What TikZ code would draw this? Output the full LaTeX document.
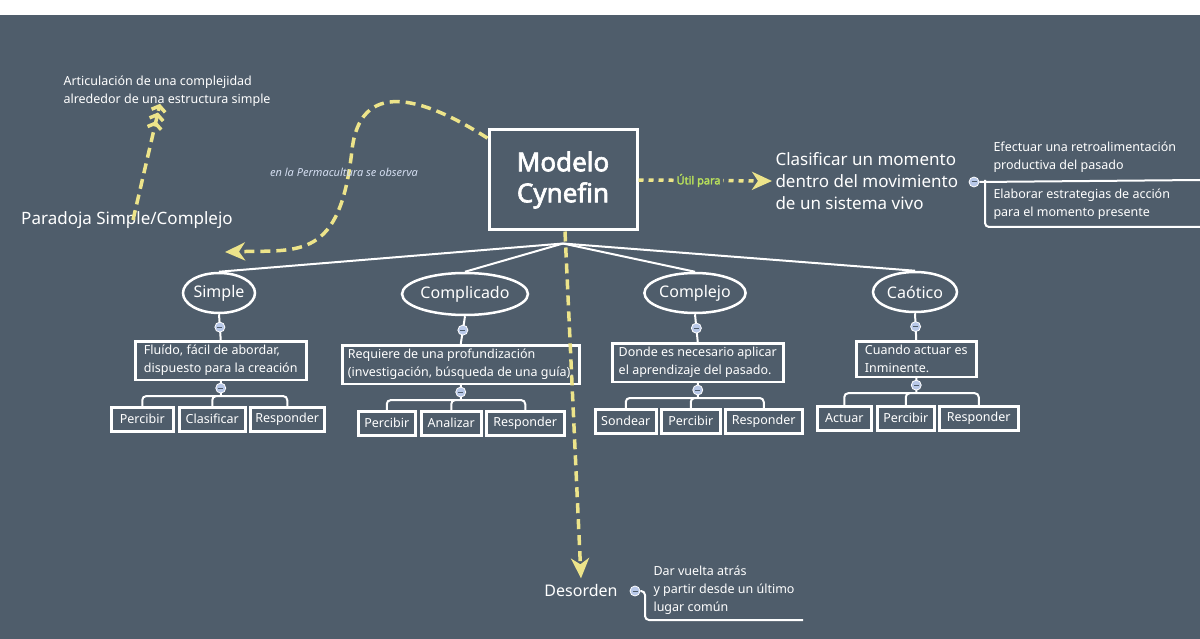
\documentclass[tikz,border=0pt]{standalone}
\usepackage{fontspec}
\setmainfont{Noto Sans}[AutoFakeBold=2.5]
\usetikzlibrary{arrows.meta,positioning,shapes.geometric,calc}
\definecolor{fondo}{HTML}{4F5D6B}
\definecolor{amarillo}{HTML}{EDE48A}
\definecolor{punto}{HTML}{B8C8E8}
\tikzset{
    >=Stealth,
    tema/.style={draw=white, line width=3pt, text=white, font=\fontsize{26}{31}\selectfont\bfseries,
                 align=center, minimum width=148pt, minimum height=100pt},
    rama/.style={ellipse, draw=white, line width=2.5pt, text=white,
                 font=\fontsize{16}{19}\selectfont, inner sep=0pt},
    caja/.style={draw=white, line width=2.5pt, text=white, align=left, anchor=north west,
                 font=\fontsize{12.5}{18}\selectfont, inner sep=4pt},
    hoja/.style={draw=white, line width=2.5pt, text=white, anchor=north west,
                 font=\fontsize{12.5}{15}\selectfont, inner sep=2pt, minimum height=24pt},
    suelto/.style={text=white, align=left, anchor=west, font=\fontsize{12.5}{18}\selectfont},
    enlace/.style={draw=white, line width=2pt},
    flecha/.style={draw=amarillo, line width=3.5pt, dash pattern=on 10pt off 6pt,
                   -{Stealth[length=20pt,width=18pt,inset=6pt]}},
    nudo/.style={circle, fill=punto, draw=white, line width=0.8pt, inner sep=0pt, minimum size=10pt,
                 path picture={\draw[fondo, line width=1pt] ([xshift=-2.5pt]path picture bounding box.center) -- ([xshift=2.5pt]path picture bounding box.center);}}
}
\begin{document}
\begin{tikzpicture}[x=1pt,y=-1pt]
\useasboundingbox (0,0) rectangle (1200,639);
\fill[white] (0,0) rectangle (1200,15);
\fill[fondo] (0,15) rectangle (1200,639);

% central topic
\node[tema] (modelo) at (563,180) {Modelo\\Cynefin};

% branches
\node[rama, minimum width=72pt, minimum height=40pt] (simple) at (219,293) {Simple};
\node[rama, minimum width=120pt, minimum height=42pt] (complicado) at (465,294) {Complicado};
\node[rama, minimum width=88pt, minimum height=40pt] (complejo) at (695,293) {Complejo};
\node[rama, minimum width=84pt, minimum height=40pt] (caotico) at (915,292) {Caótico};
\foreach \r in {simple,complicado,complejo,caotico}
    \draw[enlace] ([yshift=-12pt]modelo.south) -- (\r.north);

% descriptions
\node[caja, minimum width=171pt] (dsimple) at (134,340) {Fluído, fácil de abordar,\\dispuesto para la creación};
\node[caja, minimum width=237pt] (dcomplicado) at (341,344) {Requiere de una profundización\\(investigación, búsqueda de una guía).};
\node[caja, minimum width=171pt] (dcomplejo) at (611,342) {Donde es necesario aplicar\\el aprendizaje del pasado.};
\node[caja, minimum width=120pt] (dcaotico) at (855,340) {Cuando actuar es\\Inminente.};

% leaves
\node[hoja, minimum width=62pt] (s1) at (110,406) {Percibir};
\node[hoja, minimum width=66pt] (s2) at (178,406) {Clasificar};
\node[hoja, minimum width=74pt] (s3) at (249,406) {Responder};
\node[hoja, minimum width=57pt] (p1) at (357,410) {Percibir};
\node[hoja, minimum width=60pt] (p2) at (420,410) {Analizar};
\node[hoja, minimum width=78pt] (p3) at (485,410) {Responder};
\node[hoja, minimum width=61pt] (c1) at (594,408) {Sondear};
\node[hoja, minimum width=59pt] (c2) at (660,408) {Percibir};
\node[hoja, minimum width=77pt] (c3) at (724,408) {Responder};
\node[hoja, minimum width=54pt] (a1) at (816,405) {Actuar};
\node[hoja, minimum width=57pt] (a2) at (876,405) {Percibir};
\node[hoja, minimum width=79pt] (a3) at (938,405) {Responder};

% connectors with collapse knots
\foreach \r/\d/\a/\b/\c in {simple/dsimple/s1/s2/s3, complicado/dcomplicado/p1/p2/p3,
                            complejo/dcomplejo/c1/c2/c3, caotico/dcaotico/a1/a2/a3}{
    \draw[enlace] (\r.south) -- (\d.north);
    \node[nudo] (k\r) at ($(\r.south)!0.5!(\d.north)$) {};
    \draw[enlace, rounded corners=4pt] (\d.south) -- ++(0,15) coordinate (m\r)
        (\a.north) |- (m\r) -| (\c.north)
        (m\r) -| (\b.north);
    \node[nudo] (j\r) at ([yshift=-7pt]\d.south) {};
}

% paradox
\node[text=white, font=\fontsize{17}{20}\selectfont] (paradoja) at (127,220) {Paradoja Simple/Complejo};
\node[suelto] (articulacion) at (60,91) {Articulación de una complejidad\\alrededor de una estructura simple};
\draw[draw=amarillo, line width=3.5pt, dash pattern=on 10pt off 6pt,
      -{Straight Barb[length=5pt,width=14pt]Straight Barb[length=5pt,width=14pt]Straight Barb[length=5pt,width=14pt]}]
    ([xshift=6pt,yshift=-12pt]paradoja.north) -- ([xshift=100pt,yshift=6pt]articulacion.south west);
\draw[flecha] (modelo.151) .. controls (420,95) and (360,80) .. (352,150)
    .. controls (340,260) and (300,250) .. (225,252);
\node[text=punto!60!white, font=\fontsize{11}{13}\selectfont\itshape] (permacultura) at (344,172) {en la Permacultura se observa};

% useful for
\node[suelto, font=\fontsize{17}{22}\selectfont] (clasificar) at (772,181) {Clasificar un momento\\dentro del movimiento\\de un sistema vivo};
\draw[flecha, dash pattern=on 5pt off 5pt] (modelo.east) -- (clasificar.west)
    node[pos=0.45, fill=fondo, inner sep=2pt, text=yellow!60!green!70!white, font=\fontsize{11}{13}\selectfont\bfseries] (util) {Útil para};
\node[nudo] (kclas) at (974,182) {};
\node[suelto] (efectuar) at (990,157) {Efectuar una retroalimentación\\productiva del pasado};
\node[suelto] (elaborar) at (990,204) {Elaborar estrategias de acción\\para el momento presente};
\draw[enlace, rounded corners=4pt] (kclas.east) -- (1200,180) (985,180) |- (1200,227);

% disorder
\node[text=white, font=\fontsize{16}{19}\selectfont] (desorden) at (581,590) {Desorden};
\draw[flecha] ([xshift=2pt]modelo.south) -- ([yshift=2pt]desorden.north);
\node[nudo] (kdes) at (635,591) {};
\node[suelto] (vuelta) at (650,590) {Dar vuelta atrás\\y partir desde un último\\lugar común};
\draw[enlace, rounded corners=4pt] (kdes.east) -| (645,620) -- (803,620);
\end{tikzpicture}
\end{document}
